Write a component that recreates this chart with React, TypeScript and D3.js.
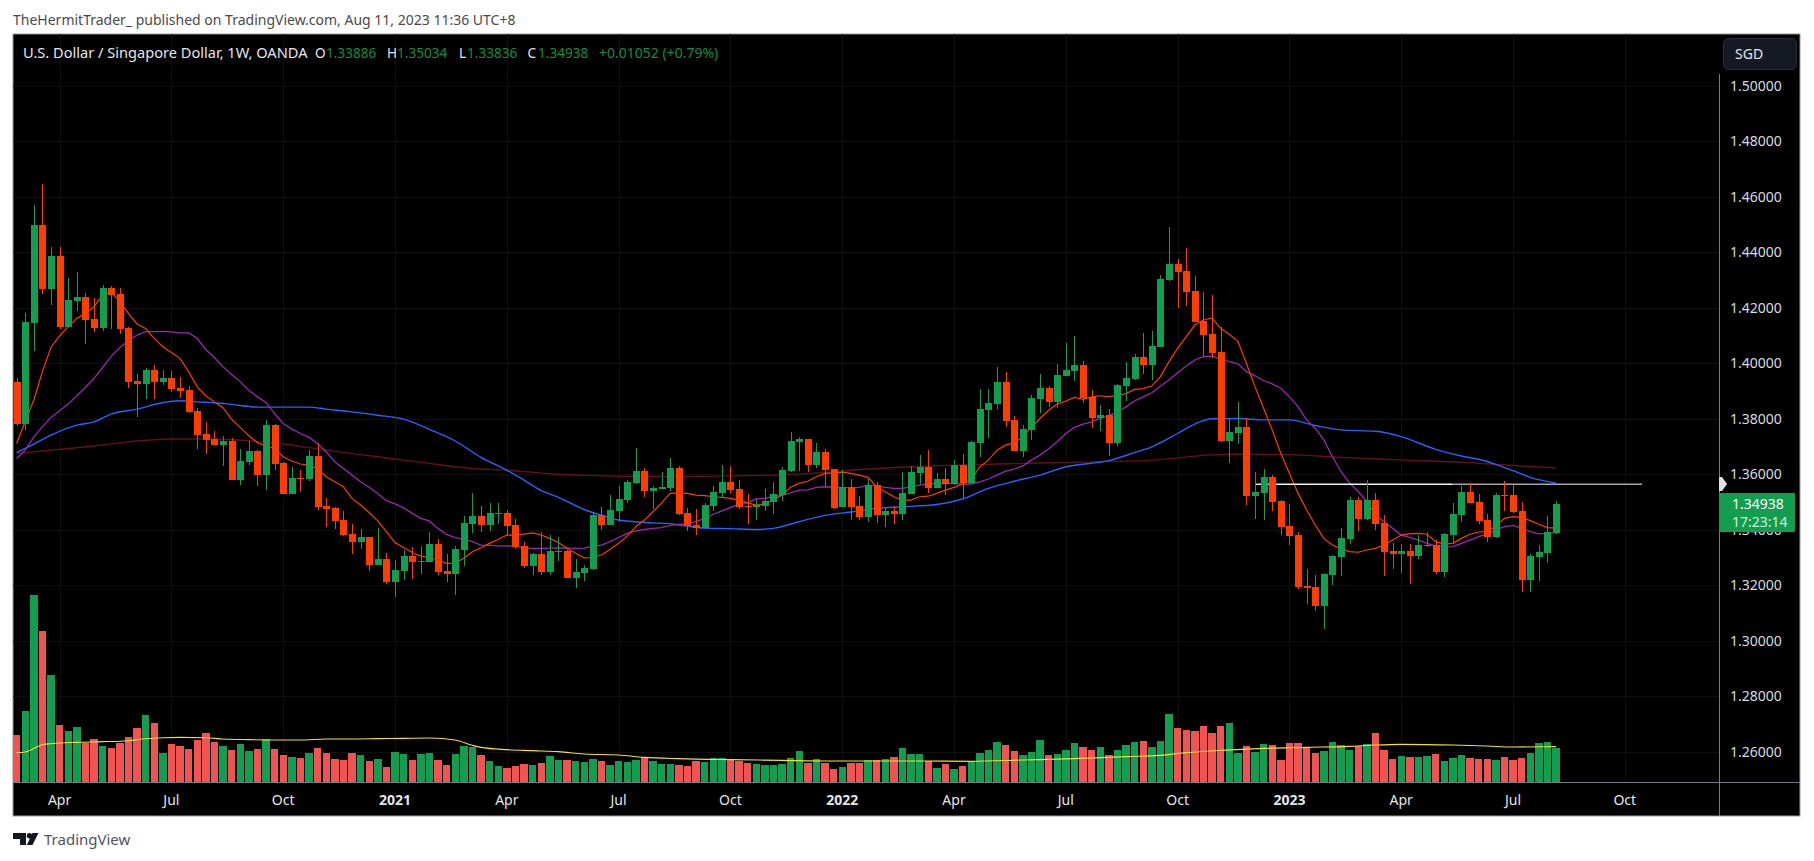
import React from "react";
import * as d3 from "d3";

const opens = [
1.3934,1.3782,1.4145,1.4499,1.4268,1.4387,1.4131,1.4225,1.4239,1.4160,
1.4127,1.4272,1.4250,1.4127,1.3936,1.3926,1.3976,1.3933,1.3947,1.3911,
1.3904,1.3828,1.3745,1.3727,1.3705,1.3720,1.3579,1.3644,1.3684,1.3597,
1.3777,1.3640,1.3529,1.3586,1.3583,1.3666,1.3485,1.3478,1.3435,1.3384,
1.3356,1.3374,1.3273,1.3294,1.3211,1.3251,1.3305,1.3283,1.3283,1.3348,
1.3251,1.3240,1.3327,1.3420,1.3449,1.3417,1.3456,1.3460,1.3417,1.3341,
1.3269,1.3312,1.3247,1.3319,1.3323,1.3226,1.3244,1.3258,1.3453,1.3417,
1.3467,1.3507,1.3568,1.3611,1.3539,1.3547,1.3550,1.3622,1.3460,1.3417,
1.3406,1.3485,1.3532,1.3572,1.3547,1.3485,1.3482,1.3485,1.3500,1.3525,
1.3611,1.3716,1.3727,1.3633,1.3680,1.3619,1.3482,1.3554,1.3485,1.3446,
1.3561,1.3453,1.3467,1.3456,1.3529,1.3604,1.3626,1.3550,1.3583,1.3565,
1.3633,1.3568,1.3712,1.3831,1.3853,1.3932,1.3795,1.3684,1.3759,1.3871,
1.3911,1.3860,1.3954,1.3972,1.3994,1.3878,1.3803,1.3813,1.3712,1.3918,
1.3943,1.4022,1.3994,1.4059,1.4301,1.4358,1.4333,1.4261,1.4153,1.4106,
1.4041,1.3720,1.3749,1.3771,1.3522,1.3533,1.3590,1.3504,1.3414,1.3381,
1.3198,1.3194,1.3125,1.3237,1.3302,1.3367,1.3508,1.3439,1.3508,1.3425,
1.3324,1.3313,1.3324,1.3306,1.3342,1.3345,1.3248,1.3381,1.3454,1.3536,
1.3500,1.3435,1.3374,1.3526,1.3526,1.3468,1.3219,1.3302,1.3317,1.33886];
const highs = [
1.3946,1.4182,1.4571,1.4647,1.4418,1.4418,1.4308,1.4329,1.4252,1.4236,
1.4282,1.4279,1.4272,1.4132,1.3962,1.3983,1.3994,1.3976,1.3972,1.3950,
1.3920,1.3839,1.3788,1.3756,1.3738,1.3730,1.3691,1.3720,1.3687,1.3795,
1.3781,1.3644,1.3626,1.3615,1.3687,1.3712,1.3514,1.3482,1.3467,1.3420,
1.3402,1.3374,1.3406,1.3316,1.3291,1.3327,1.3338,1.3341,1.3392,1.3366,
1.3312,1.3341,1.3449,1.3532,1.3485,1.3496,1.3496,1.3471,1.3438,1.3356,
1.3316,1.3392,1.3381,1.3374,1.3327,1.3294,1.3273,1.3465,1.3482,1.3525,
1.3557,1.3579,1.3694,1.3621,1.3557,1.3608,1.3658,1.3630,1.3478,1.3475,
1.3495,1.3557,1.3633,1.3630,1.3579,1.3529,1.3511,1.3547,1.3572,1.3626,
1.3752,1.3734,1.3727,1.3712,1.3691,1.3619,1.3615,1.3583,1.3521,1.3583,
1.3572,1.3482,1.3485,1.3608,1.3630,1.3669,1.3687,1.3604,1.3622,1.3651,
1.3673,1.3720,1.3907,1.3907,1.3986,1.3968,1.3810,1.3777,1.3885,1.3961,
1.3918,1.3997,1.4073,1.4098,1.4008,1.3903,1.3849,1.3835,1.3925,1.4004,
1.4033,1.4109,1.4116,1.4319,1.4492,1.4376,1.4416,1.4315,1.4257,1.4247,
1.4132,1.3802,1.3861,1.3802,1.3610,1.3619,1.3598,1.3508,1.3493,1.3392,
1.3259,1.3237,1.3243,1.3309,1.3407,1.3518,1.3518,1.3580,1.3533,1.3453,
1.3353,1.3349,1.3349,1.3381,1.3393,1.3363,1.3387,1.3497,1.3558,1.3565,
1.3529,1.3457,1.3533,1.3576,1.3562,1.3500,1.3313,1.3345,1.3450,1.35034];
const lows = [
1.3775,1.3760,1.4045,1.4250,1.4210,1.4124,1.4131,1.4189,1.4070,1.4113,
1.4117,1.4124,1.4106,1.3911,1.3807,1.3872,1.3872,1.3922,1.3897,1.3875,
1.3822,1.3691,1.3673,1.3705,1.3630,1.3579,1.3561,1.3633,1.3557,1.3543,
1.3615,1.3529,1.3529,1.3536,1.3575,1.3471,1.3410,1.3402,1.3377,1.3312,
1.3330,1.3251,1.3273,1.3204,1.3157,1.3219,1.3222,1.3240,1.3283,1.3237,
1.3211,1.3164,1.3269,1.3388,1.3392,1.3395,1.3420,1.3381,1.3330,1.3262,
1.3237,1.3237,1.3237,1.3287,1.3226,1.3190,1.3215,1.3255,1.3399,1.3417,
1.3428,1.3497,1.3565,1.3518,1.3475,1.3547,1.3539,1.3453,1.3395,1.3381,
1.3402,1.3467,1.3514,1.3532,1.3475,1.3420,1.3435,1.3467,1.3456,1.3503,
1.3608,1.3611,1.3608,1.3622,1.3557,1.3475,1.3482,1.3435,1.3435,1.3428,
1.3424,1.3410,1.3420,1.3435,1.3529,1.3565,1.3532,1.3550,1.3525,1.3561,
1.3511,1.3568,1.3662,1.3730,1.3835,1.3770,1.3684,1.3662,1.3723,1.3821,
1.3842,1.3839,1.3954,1.3936,1.3857,1.3766,1.3756,1.3666,1.3702,1.3864,
1.3940,1.3961,1.3940,1.4059,1.4297,1.4200,1.4207,1.4149,1.4023,1.4020,
1.3717,1.3641,1.3709,1.3490,1.3439,1.3435,1.3468,1.3381,1.3345,1.3187,
1.3133,1.3107,1.3042,1.3201,1.3234,1.3349,1.3396,1.3435,1.3399,1.3234,
1.3259,1.3244,1.3205,1.3295,1.3339,1.3241,1.3230,1.3349,1.3428,1.3497,
1.3421,1.3356,1.3370,1.3468,1.3461,1.3176,1.3176,1.3216,1.3280,1.33836];
const closes = [
1.3782,1.4149,1.4499,1.4268,1.4387,1.4131,1.4228,1.4239,1.4156,1.4127,
1.4272,1.4247,1.4124,1.3933,1.3926,1.3976,1.3933,1.3947,1.3908,1.3901,
1.3824,1.3741,1.3723,1.3705,1.3720,1.3579,1.3648,1.3684,1.3597,1.3777,
1.3637,1.3529,1.3586,1.3583,1.3666,1.3482,1.3475,1.3431,1.3381,1.3356,
1.3374,1.3273,1.3294,1.3211,1.3255,1.3305,1.3283,1.3287,1.3348,1.3247,
1.3240,1.3330,1.3424,1.3449,1.3417,1.3460,1.3460,1.3413,1.3338,1.3269,
1.3312,1.3247,1.3323,1.3323,1.3226,1.3247,1.3262,1.3453,1.3417,1.3471,
1.3511,1.3572,1.3611,1.3539,1.3550,1.3554,1.3622,1.3456,1.3413,1.3406,
1.3489,1.3536,1.3572,1.3543,1.3482,1.3482,1.3489,1.3503,1.3529,1.3615,
1.3720,1.3727,1.3633,1.3680,1.3615,1.3478,1.3554,1.3482,1.3446,1.3561,
1.3453,1.3467,1.3456,1.3532,1.3608,1.3626,1.3550,1.3583,1.3565,1.3633,
1.3568,1.3716,1.3835,1.3857,1.3932,1.3792,1.3684,1.3763,1.3875,1.3911,
1.3860,1.3958,1.3976,1.3994,1.3875,1.3803,1.3813,1.3712,1.3921,1.3947,
1.4022,1.3994,1.4062,1.4304,1.4358,1.4329,1.4257,1.4149,1.4102,1.4038,
1.3720,1.3753,1.3771,1.3522,1.3536,1.3590,1.3500,1.3410,1.3378,1.3194,
1.3190,1.3125,1.3241,1.3306,1.3371,1.3508,1.3439,1.3508,1.3421,1.3320,
1.3313,1.3324,1.3306,1.3345,1.3345,1.3248,1.3385,1.3457,1.3536,1.3497,
1.3432,1.3374,1.3526,1.3522,1.3464,1.3219,1.3306,1.3320,1.3392,1.34938];
const volumes = [
142,214,562,454,322,172,154,166,118,130,
109,103,118,136,163,202,178,88,115,109,
100,127,148,121,109,97,115,94,100,130,
100,82,76,73,88,103,88,70,67,88,
82,64,70,46,91,85,67,85,88,67,
52,85,109,106,82,64,49,43,49,55,
52,58,79,67,67,64,61,70,63,52,
63,60,66,75,63,54,54,51,48,63,
60,72,72,69,63,57,54,51,51,54,
72,93,57,69,57,39,45,57,57,66,
66,69,75,102,84,84,63,42,54,39,
48,60,87,96,120,111,93,81,90,126,
81,84,96,117,105,96,105,81,96,111,
120,123,105,123,204,162,156,153,168,147,
168,177,87,108,90,114,111,66,117,117,
105,87,93,120,111,96,108,114,147,96,
69,78,75,75,78,84,63,72,81,72,
69,69,66,75,66,72,87,117,120,102];

const fastMA = [
1.3711,1.3790,1.3868,1.3970,1.4058,1.4099,1.4132,1.4162,1.4180,1.4204,
1.4246,1.4258,1.4222,1.4180,1.4142,1.4126,1.4090,1.4060,1.4039,1.4018,
1.3970,1.3915,1.3883,1.3861,1.3840,1.3799,1.3769,1.3739,1.3714,1.3703,
1.3693,1.3663,1.3648,1.3637,1.3633,1.3619,1.3591,1.3573,1.3555,1.3513,
1.3489,1.3462,1.3432,1.3393,1.3354,1.3336,1.3318,1.3305,1.3300,1.3291,
1.3279,1.3280,1.3297,1.3321,1.3335,1.3351,1.3365,1.3381,1.3381,1.3384,
1.3389,1.3381,1.3369,1.3354,1.3333,1.3315,1.3299,1.3300,1.3309,1.3329,
1.3351,1.3377,1.3411,1.3435,1.3465,1.3497,1.3531,1.3533,1.3531,1.3525,
1.3523,1.3519,1.3517,1.3513,1.3507,1.3497,1.3489,1.3493,1.3507,1.3525,
1.3553,1.3567,1.3575,1.3591,1.3603,1.3605,1.3608,1.3603,1.3597,1.3589,
1.3555,1.3537,1.3519,1.3507,1.3507,1.3519,1.3521,1.3531,1.3543,1.3553,
1.3565,1.3579,1.3627,1.3651,1.3687,1.3705,1.3714,1.3735,1.3769,1.3801,
1.3831,1.3853,1.3864,1.3877,1.3870,1.3879,1.3883,1.3879,1.3885,1.3891,
1.3906,1.3909,1.3918,1.3952,1.4006,1.4054,1.4096,1.4138,1.4156,1.4164,
1.4126,1.4105,1.4080,1.4000,1.3916,1.3838,1.3760,1.3676,1.3604,1.3532,
1.3472,1.3417,1.3369,1.3345,1.3331,1.3321,1.3319,1.3327,1.3333,1.3345,
1.3363,1.3381,1.3386,1.3387,1.3384,1.3357,1.3348,1.3351,1.3369,1.3384,
1.3392,1.3393,1.3414,1.3441,1.3447,1.3445,1.3433,1.3420,1.3408,1.3406];
const midMA = [
1.3657,1.3687,1.3735,1.3771,1.3805,1.3829,1.3853,1.3883,1.3913,1.3946,
1.3985,1.4026,1.4056,1.4081,1.4102,1.4114,1.4114,1.4115,1.4113,1.4110,
1.4110,1.4090,1.4050,1.4021,1.3988,1.3960,1.3934,1.3903,1.3879,1.3859,
1.3819,1.3783,1.3763,1.3747,1.3733,1.3711,1.3681,1.3645,1.3621,1.3597,
1.3573,1.3553,1.3531,1.3505,1.3493,1.3479,1.3459,1.3441,1.3432,1.3405,
1.3383,1.3372,1.3365,1.3357,1.3345,1.3344,1.3342,1.3342,1.3340,1.3335,
1.3333,1.3333,1.3334,1.3335,1.3334,1.3333,1.3334,1.3341,1.3345,1.3357,
1.3372,1.3387,1.3396,1.3401,1.3405,1.3408,1.3416,1.3419,1.3422,1.3429,
1.3441,1.3455,1.3468,1.3480,1.3493,1.3497,1.3511,1.3513,1.3519,1.3525,
1.3533,1.3543,1.3544,1.3553,1.3555,1.3554,1.3553,1.3551,1.3553,1.3561,
1.3557,1.3553,1.3549,1.3549,1.3555,1.3561,1.3565,1.3567,1.3566,1.3566,
1.3565,1.3565,1.3573,1.3583,1.3597,1.3611,1.3619,1.3630,1.3651,1.3669,
1.3691,1.3717,1.3747,1.3769,1.3781,1.3789,1.3801,1.3811,1.3825,1.3843,
1.3865,1.3879,1.3894,1.3918,1.3940,1.3966,1.3990,1.4012,1.4024,1.4026,
1.4015,1.4006,1.3998,1.3970,1.3955,1.3938,1.3926,1.3910,1.3880,1.3844,
1.3796,1.3766,1.3724,1.3664,1.3610,1.3568,1.3538,1.3502,1.3454,1.3429,
1.3405,1.3381,1.3373,1.3363,1.3351,1.3342,1.3338,1.3339,1.3351,1.3363,
1.3375,1.3385,1.3399,1.3411,1.3416,1.3405,1.3393,1.3385,1.3387,1.3390];

const blueWeeks = [0,2,4,7,9,11,14,17,19,21,23,25,28,31,34,36,39,42,45,48,51,54,57,59,61,63,66,68,70,74,76,78,80,83,86,88,91,94,97,100,103,107,110,113,116,119,122,127,130,132,135,137,139,142,145,148,151,154,158,161,165,168,170,172,174,176,179];
const blueMA = [1.3678,1.3709,1.3741,1.3777,1.3789,1.3817,1.3835,1.3858,1.3865,1.3861,1.3858,1.3852,1.3842,1.3842,1.3842,1.3835,1.3825,1.3813,1.3799,1.3762,1.3720,1.3661,1.3615,1.3579,1.3541,1.3517,1.3473,1.3453,1.3435,1.3425,1.3422,1.3413,1.3406,1.3404,1.3401,1.3405,1.3429,1.3452,1.3464,1.3477,1.3483,1.3491,1.3511,1.3549,1.3575,1.3597,1.3627,1.3649,1.3678,1.3699,1.3747,1.3781,1.3800,1.3801,1.3796,1.3796,1.3776,1.3760,1.3755,1.3736,1.3690,1.3666,1.3654,1.3636,1.3613,1.3589,1.3568];
const maroonWeeks = [0,5,9,13,18,23,26,31,36,42,47,53,57,62,66,70,77,87,93,99,107,114,124,132,139,142,148,154,161,170,175,179];
const maroonMA = [1.3675,1.3690,1.3702,1.3717,1.3727,1.3727,1.3723,1.3709,1.3687,1.3663,1.3643,1.3621,1.3615,1.3602,1.3596,1.3593,1.3592,1.3596,1.3605,1.3619,1.3631,1.3637,1.3644,1.3651,1.3670,1.3672,1.3671,1.3661,1.3652,1.3640,1.3630,1.3623];
const volMAWeeks = [0,1,3,4,7,10,13,15,17,19,22,24,27,30,33,36,39,42,45,48,51,53,54,57,60,63,66,70,73,77,83,89,94,99,105,111,117,123,129,133,136,140,145,150,155,158,161,167,171,174,179];
const volMA = [88,90,112,115,119,121,124,130,133,134,133,129,127,126,126,129,129,130,131,132,126,110,104,97,94,91,84,81,74,70,67,65,63,63,63,62,66,70,76,80,88,95,101,104,107,111,113,111,108,105,106];

const priceTicks = [1.26,1.28,1.30,1.32,1.34,1.36,1.38,1.40,1.42,1.44,1.46,1.48,1.50];
const timeTickWeeks = [5,18,31,44,57,70,83,96,109,122,135,148,161,174,187];
const timeTickLabels = ["Apr","Jul","Oct","2021","Apr","Jul","Oct","2022","Apr","Jul","Oct","2023","Apr","Jul","Oct"];
const resistance = { price: 1.3564, fromWeek: 144, midWeek: 167, toWeek: 189 };
const ohlcLabels = ["1.33886","1.35034","1.33836","1.34938"];

const W = 1814, H = 861;
const L = 13, T = 34, R = 1800, B = 816, AX = 1719, TA = 782;
const UI = "'Noto Sans', sans-serif";
const GREEN = "#129e4e", RED = "#ff3d00", VRED = "#f05350", TXT = "#e4e6ea";

const x = d3.scaleLinear().domain([0, 179]).range([16.6, 1556]);
const y = d3.scaleLinear().domain([1.26, 1.5]).range([751.7, 85.9]);
const v = d3.scaleLinear().domain([0, 562]).range([TA, TA - 187.3]);
const weeks = d3.range(closes.length);
const priceLine = d3.line<number>().x((_, i) => x(i)).y(d => y(d));
const knotLine = (ws: number[], vs: number[], sy: (n: number) => number) =>
  d3.line<number>().x(d => x(d)).y((_, i) => sy(vs[i])).curve(d3.curveMonotoneX)(ws) as string;

export default function App() {
  return (
    <svg width={W} height={H} viewBox={`0 0 ${W} ${H}`} style={{ position: "fixed", left: 0, top: 0, display: "block", background: "#fff" }}>
      <defs>
        <clipPath id="plot"><rect x={L} y={T} width={AX - L} height={TA - T} /></clipPath>
      </defs>
      <text x={13} y={25} fontFamily={UI} fontSize={14} fill="#4a4a4a">TheHermitTrader_ published on TradingView.com, Aug 11, 2023 11:36 UTC+8</text>
      <rect x={L} y={T} width={R - L} height={B - T} fill="#000" stroke="#9598a1" strokeWidth={1} />
      <g stroke="#0f0f0f" strokeWidth={1} shapeRendering="crispEdges">
        {priceTicks.map(p => <line key={p} x1={L} x2={AX} y1={Math.round(y(p)) + .5} y2={Math.round(y(p)) + .5} />)}
        {timeTickWeeks.map(w => <line key={w} x1={Math.round(x(w)) + .5} x2={Math.round(x(w)) + .5} y1={T} y2={TA} />)}
      </g>
      <g clipPath="url(#plot)">
        <g shapeRendering="crispEdges">
          {weeks.map(i => {
            const left = Math.round(x(i) - 3.6);
            return <rect key={i} x={left} y={v(volumes[i])} width={Math.round(x(i) + 3.8) - left} height={TA - v(volumes[i])} fill={closes[i] >= opens[i] ? GREEN : VRED} />;
          })}
        </g>
        <path d={knotLine(volMAWeeks, volMA, v)} fill="none" stroke="#f5e12e" strokeWidth={1.1} />
        <path d={knotLine(maroonWeeks, maroonMA, y)} fill="none" stroke="#651016" strokeWidth={1.4} />
        <path d={knotLine(blueWeeks, blueMA, y)} fill="none" stroke="#2962ff" strokeWidth={1.4} />
        <path d={priceLine(midMA) as string} fill="none" stroke="#9c27b0" strokeWidth={1.3} />
        <path d={priceLine(fastMA) as string} fill="none" stroke={RED} strokeWidth={1.2} />
        <line x1={x(resistance.fromWeek)} x2={x(resistance.midWeek)} y1={y(resistance.price)} y2={y(resistance.price)} stroke="#f2f2f2" strokeWidth={1.4} />
        <line x1={x(resistance.midWeek)} x2={x(resistance.toWeek)} y1={y(resistance.price)} y2={y(resistance.price)} stroke="#a6a6a6" strokeWidth={1.6} />
        <g shapeRendering="crispEdges">
          {weeks.map(i => {
            const up = closes[i] >= opens[i];
            const c = up ? GREEN : RED;
            const top = y(Math.max(opens[i], closes[i]));
            const bot = y(Math.min(opens[i], closes[i]));
            const cx = Math.round(x(i));
            return (
              <g key={i}>
                <rect x={cx} y={y(highs[i])} width={1} height={y(lows[i]) - y(highs[i])} fill={c} />
                <rect x={cx - 3} y={top} width={7} height={Math.max(1, bot - top)} fill={c} />
              </g>
            );
          })}
        </g>
      </g>
      <g stroke="#787b86" strokeWidth={1} shapeRendering="crispEdges">
        <line x1={L} x2={R} y1={TA + .5} y2={TA + .5} />
        <line x1={AX + .5} x2={AX + .5} y1={74} y2={B} />
      </g>
      <g fontFamily={UI} fontSize={14} fill="#d8dae0">
        {priceTicks.map(p => <text key={p} x={1730} y={y(p) + 5}>{p.toFixed(5)}</text>)}
      </g>
      <g fontFamily={UI} fontSize={14} fill={TXT} textAnchor="middle">
        {timeTickWeeks.map((w, i) => (
          <text key={w} x={x(w)} y={805} fontWeight={/^\d/.test(timeTickLabels[i]) ? 700 : 400}>{timeTickLabels[i]}</text>
        ))}
      </g>
      <g fontFamily={UI} fontSize={13.6}>
        <text x={23} y={58} fontSize={14.6} fill={TXT}>U.S. Dollar / Singapore Dollar, 1W, OANDA</text>
        {["O", "H", "L", "C"].map((k, i) => (
          <g key={k}>
            <text x={[315, 387, 459, 527.5][i]} y={58} fill={TXT}>{k}</text>
            <text x={[326, 397, 467, 538][i]} y={58} fill="#0c8f47">{ohlcLabels[i]}</text>
          </g>
        ))}
        <text x={599} y={58} fontSize={14} fill="#0c8f47">+0.01052 (+0.79%)</text>
      </g>
      <rect x={1723.5} y={38.5} width={73} height={31} rx={5} fill="#151924" stroke="#2a2e39" />
      <text x={1735} y={59} fontFamily={UI} fontSize={14} fill={TXT}>SGD</text>
      <rect x={AX} y={493} width={76} height={39} rx={1} fill={GREEN} />
      <text x={1732} y={508.5} fontFamily={UI} fontSize={14} fill="#fff">{closes[179].toFixed(5)}</text>
      <text x={1732} y={526.5} fontFamily={UI} fontSize={14} fill="#d5eedd">17:23:14</text>
      <polygon points={`${AX},477 ${AX + 3},477 ${AX + 8},484 ${AX + 3},491 ${AX},491`} fill="#dfe1e6" />
      <g fill="#131722">
        <polygon points="13,833 26,833 26,845 20,845 20,839 13,839" />
        <circle cx={29.5} cy={835.7} r={2.7} />
        <polygon points="32.5,833 38.5,833 32.5,845 26.8,845" />
      </g>
      <text x={44} y={845} fontFamily={UI} fontSize={15} fill="#50535e">TradingView</text>
    </svg>
  );
}
